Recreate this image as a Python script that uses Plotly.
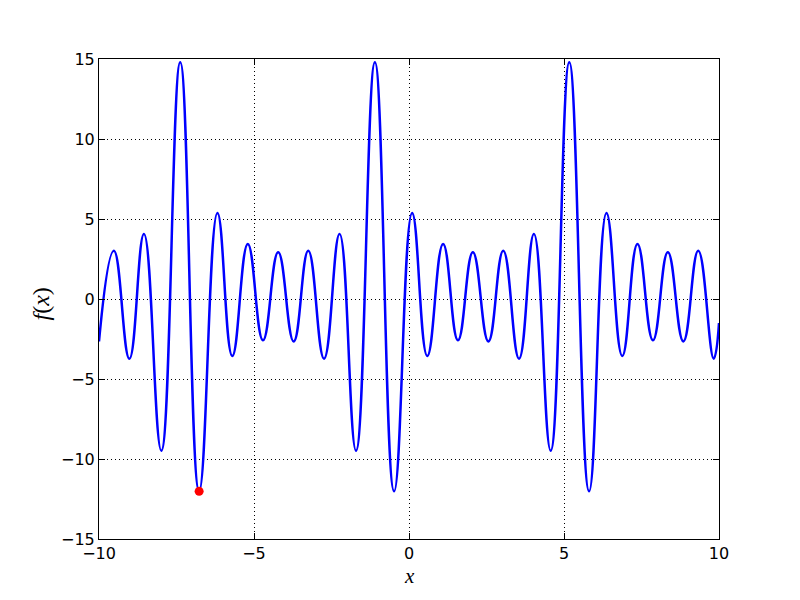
import plotly.graph_objects as go

# Extrema of the curve (x, f(x))
x_vals = [-10.0, -9.52, -9.02, -8.55, -7.99, -7.38, -6.77, -6.18, -5.70, -5.20,
          -4.71, -4.22, -3.72, -3.25, -2.74, -2.24, -1.71, -1.10, -0.48, 0.10,
          0.59, 1.10, 1.58, 2.06, 2.56, 3.04, 3.55, 4.03, 4.57, 5.17,
          5.81, 6.37, 6.88, 7.37, 7.87, 8.35, 8.85, 9.33, 9.83, 10.0]
y_vals = [-2.65, 3.02, -3.73, 4.06, -9.48, 14.79, -12.02, 5.38, -3.56, 3.44,
          -2.58, 2.92, -2.65, 3.02, -3.73, 4.06, -9.48, 14.79, -12.02, 5.38,
          -3.56, 3.44, -2.58, 2.92, -2.65, 3.02, -3.73, 4.06, -9.48, 14.79,
          -12.02, 5.38, -3.56, 3.44, -2.58, 2.92, -2.65, 3.02, -3.73, -1.5]

min_x = [-6.77]
min_y = [-12.02]

x_ticks = [-10, -5, 0, 5, 10]
y_ticks = [-15, -10, -5, 0, 5, 10, 15]

fig = go.Figure()
fig.add_trace(go.Scatter(x=x_vals, y=y_vals, mode="lines",
                         line=dict(color="#0000ff", width=2.5, shape="spline", smoothing=1.3),
                         showlegend=False, hoverinfo="skip"))
fig.add_trace(go.Scatter(x=min_x, y=min_y, mode="markers",
                         marker=dict(color="#ff0000", size=9, line=dict(width=0)),
                         showlegend=False))

axis_common = dict(showline=True, linecolor="black", linewidth=1, mirror="ticks",
                   ticks="inside", ticklen=6, tickcolor="black", tickwidth=1,
                   showgrid=True, gridcolor="black", gridwidth=1, griddash="1px,3px",
                   zeroline=False, tickfont=dict(family="DejaVu Sans", size=16, color="black"))

fig.update_xaxes(range=[-10, 10], tickvals=x_ticks, ticktext=[str(t).replace("-", "\u2212") for t in x_ticks],
                 **axis_common)
fig.update_yaxes(range=[-15, 15], tickvals=y_ticks, ticktext=[str(t).replace("-", "\u2212") for t in y_ticks],
                 **axis_common)

fig.add_annotation(text="<i>x</i>", xref="paper", yref="paper", x=0.5, y=-0.077,
                   xanchor="center", yanchor="middle", showarrow=False,
                   font=dict(family="Liberation Serif", size=21, color="black"),
                   borderpad=0)
fig.add_annotation(text="<i>f</i>(<i>x</i>)", xref="paper", yref="paper", x=-0.094, y=0.49,
                   xanchor="center", yanchor="middle", textangle=-90, showarrow=False,
                   font=dict(family="Liberation Serif", size=24, color="black"))

fig.update_layout(width=800, height=600, paper_bgcolor="white", plot_bgcolor="white",
                  margin=dict(l=91, r=89, t=51, b=69, pad=0))

fig.write_html("out.html")
